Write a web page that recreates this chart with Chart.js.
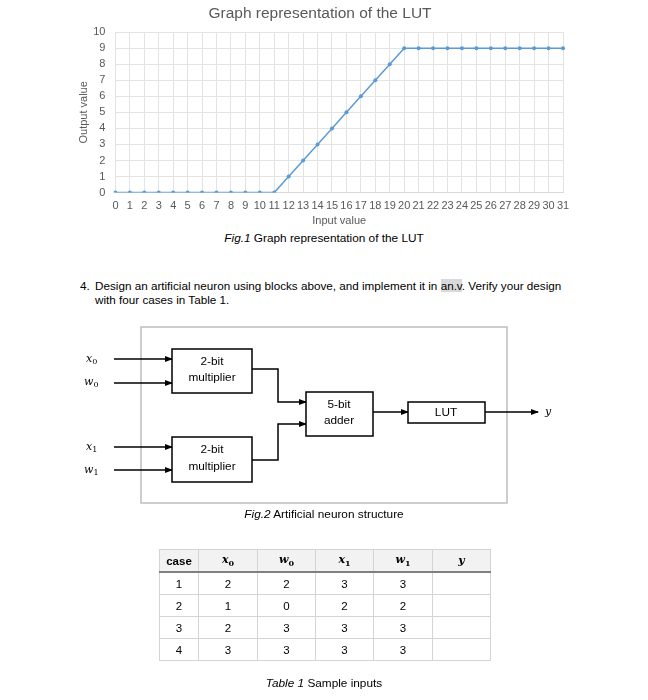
<!DOCTYPE html>
<html>
<head>
<meta charset="utf-8">
<script src="https://cdn.jsdelivr.net/npm/chart.js@4.4.1/dist/chart.umd.min.js"></script>
<style>
  body { margin: 0; background: #fff; font-family: "Liberation Sans", Arial, sans-serif; color: #000; }
  #page { position: relative; width: 648px; height: 700px; overflow: hidden; }
  #chartBox { position: absolute; left: 0; top: 0; width: 648px; height: 229px; }
  .cap { position: absolute; left: 0; width: 648px; text-align: center; font-size: 11.8px; }
  .cap i { font-style: italic; }
  #para { position: absolute; left: 80px; top: 279px; font-size: 11.7px; line-height: 14px; width: 520px; }
  #para .hl { background: #d9d9d9; }
  #diagram { position: absolute; left: 0; top: 0; }
  #tbl { position: absolute; left: 159px; top: 549px; border-collapse: collapse; font-size: 11.5px; }
  #tbl td, #tbl th { border: 1px solid #d4d4d4; height: 21px; padding: 0; text-align: center; font-weight: normal; }
  #tbl th { background: #f2f2f2; border-bottom: 2px solid #808080; height: 21px; }
  #tbl th.b { font-weight: bold; }
  .m { font-family: "DejaVu Serif", "Liberation Serif", serif; font-style: italic; font-weight: bold; font-size: 11px; }
  .m sub { font-size: 8px; font-style: normal; }
</style>
</head>
<body>
<div id="page">
  <div id="chartBox"><canvas id="lut_chart"></canvas></div>
  <div class="cap" style="top:231px;"><i>Fig.1</i> Graph representation of the LUT</div>

  <div id="para"><span style="position:absolute;left:0;">4.</span><span style="position:absolute;left:15px;white-space:nowrap;">Design an artificial neuron using blocks above, and implement it in <span class="hl">an.v</span>. Verify your design<br>with four cases in Table 1.</span></div>

  <svg id="diagram" width="648" height="700">
    <defs>
      <marker id="arr" markerWidth="8" markerHeight="6" refX="7" refY="3" orient="auto" markerUnits="userSpaceOnUse">
        <path d="M0,0 L8,3 L0,6 z" fill="#000"/>
      </marker>
    </defs>
    <rect x="141" y="327" width="366" height="176" fill="none" stroke="#bdbdbd" stroke-width="1.5"/>
    <g stroke="#000" stroke-width="1.5" fill="none">
      <line x1="114" y1="359" x2="172" y2="359" marker-end="url(#arr)"/>
      <line x1="114" y1="383" x2="172" y2="383" marker-end="url(#arr)"/>
      <line x1="114" y1="447" x2="172" y2="447" marker-end="url(#arr)"/>
      <line x1="114" y1="470" x2="172" y2="470" marker-end="url(#arr)"/>
      <rect x="172" y="349" width="80" height="44" fill="#fff"/>
      <rect x="172" y="437" width="80" height="45" fill="#fff"/>
      <polyline points="252,369 278,369 278,402 306,402" marker-end="url(#arr)"/>
      <polyline points="252,460 278,460 278,424 306,424" marker-end="url(#arr)"/>
      <rect x="306" y="392" width="67" height="44" fill="#fff"/>
      <line x1="373" y1="412" x2="408" y2="412" marker-end="url(#arr)"/>
      <rect x="408" y="402" width="77" height="21" fill="#fff"/>
      <line x1="485" y1="412" x2="538" y2="412" marker-end="url(#arr)"/>
    </g>
    <g font-family="Liberation Sans, Arial, sans-serif" font-size="11.8" text-anchor="middle" fill="#000">
      <text x="212" y="365">2-bit</text>
      <text x="212" y="381">multiplier</text>
      <text x="212" y="453">2-bit</text>
      <text x="212" y="470">multiplier</text>
      <text x="339" y="408">5-bit</text>
      <text x="339" y="424">adder</text>
      <text x="446" y="416">LUT</text>
    </g>
    <g font-family="DejaVu Serif, Liberation Serif, serif" font-style="italic" font-size="11" fill="#000">
      <text x="86" y="362">x<tspan font-size="8" font-style="normal" dy="2">0</tspan></text>
      <text x="84" y="385">w<tspan font-size="8" font-style="normal" dy="2">0</tspan></text>
      <text x="86" y="450">x<tspan font-size="8" font-style="normal" dy="2">1</tspan></text>
      <text x="84" y="473">w<tspan font-size="8" font-style="normal" dy="2">1</tspan></text>
      <text x="545" y="415">y</text>
    </g>
  </svg>
  <div class="cap" style="top:507px;"><i>Fig.2</i> Artificial neuron structure</div>

  <table id="tbl">
    <thead><tr id="headRow"></tr></thead>
    <tbody id="tblBody"></tbody>
  </table>
  <div class="cap" style="top:676px;"><i>Table 1</i> Sample inputs</div>
</div>

<script>
// ------- LUT data -------
const inputValues = ["0", "1", "2", "3", "4", "5", "6", "7", "8", "9", "10", "11", "12", "13", "14", "15",
  "16", "17", "18", "19", "20", "21", "22", "23", "24", "25", "26", "27", "28", "29", "30", "31"];
const outputValues = [0, 0, 0, 0, 0, 0, 0, 0, 0, 0, 0, 0, 1, 2, 3, 4,
  5, 6, 7, 8, 9, 9, 9, 9, 9, 9, 9, 9, 9, 9, 9, 9];

// ------- Table 1 data -------
const caseIds = [1, 2, 3, 4];
const x0Vals = [2, 1, 2, 3];
const w0Vals = [2, 0, 3, 3];
const x1Vals = [3, 2, 3, 3];
const w1Vals = [3, 2, 3, 3];

const grey = "#595959";

// ------- Graph -------
function lut_chart() {
  new Chart("lut_chart", {
    type: "line",
    data: {
      labels: inputValues,
      datasets: [
        {
          data: outputValues,
          borderColor: "#5b9bd5",
          backgroundColor: "#5b9bd5",
          borderWidth: 1.5,
          pointRadius: 2,
          pointBorderWidth: 0,
          tension: 0,
        },
      ],
    },
    options: {
      responsive: true,
      maintainAspectRatio: false,
      animation: false,
      layout: { padding: { left: 77, right: 85, top: 0, bottom: 1 } },
      plugins: {
        legend: { display: false },
        tooltip: { enabled: false },
        title: {
          display: true,
          text: "Graph representation of the LUT",
          color: grey,
          font: { family: "Liberation Sans", size: 15.5, weight: "normal" },
          padding: { top: 4, bottom: 9.5 },
        },
      },
      scales: {
        x: {
          offset: false,
          grid: { color: "#e3e3e3", drawTicks: false, tickLength: 0 },
          border: { color: "#d9d9d9" },
          ticks: { color: grey, font: { family: "Liberation Sans", size: 11 }, padding: 7, autoSkip: false, maxRotation: 0 },
          title: { display: true, text: "Input value", color: grey, font: { family: "Liberation Sans", size: 11 }, padding: { top: -5, bottom: 0 } },
        },
        y: {
          min: 0,
          max: 10,
          grid: { color: "#e3e3e3", drawTicks: false, tickLength: 0 },
          border: { display: false },
          ticks: { stepSize: 1, autoSkip: false, color: grey, font: { family: "Liberation Sans", size: 11 }, padding: 10 },
          title: { display: true, text: "Output value", color: grey, font: { family: "Liberation Sans", size: 11 }, padding: { top: 0, bottom: -7 } },
        },
      },
    },
  });
}
lut_chart();

// ------- Table -------
function build_table() {
  let head = document.getElementById("headRow");
  head.innerHTML =
    '<th class="b" style="width:38px">case</th>' +
    '<th style="width:58px"><span class="m">x<sub>0</sub></span></th>' +
    '<th style="width:57px"><span class="m">w<sub>0</sub></span></th>' +
    '<th style="width:57px"><span class="m">x<sub>1</sub></span></th>' +
    '<th style="width:58px"><span class="m">w<sub>1</sub></span></th>' +
    '<th style="width:57px"><span class="m">y</span></th>';
  let body = document.getElementById("tblBody");
  for (let i = 0; i < caseIds.length; i++) {
    let tr = document.createElement("tr");
    tr.innerHTML = `<td>${caseIds[i]}</td><td>${x0Vals[i]}</td><td>${w0Vals[i]}</td><td>${x1Vals[i]}</td><td>${w1Vals[i]}</td><td></td>`;
    body.appendChild(tr);
  }
}
build_table();
</script>
</body>
</html>
